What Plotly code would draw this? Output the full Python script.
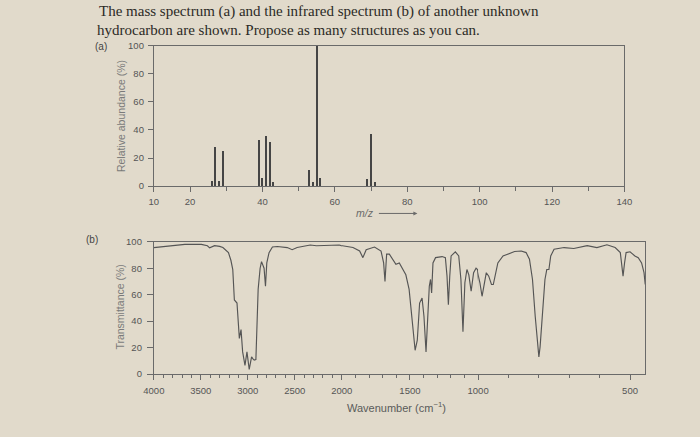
import plotly.graph_objects as go

# ---------------- data ----------------
# (a) mass spectrum
mz = [26, 27, 28, 29, 39, 40, 41, 42, 43, 53, 54, 55, 56, 69, 70, 71]
abundance = [4, 28, 4, 25, 33, 6, 36, 31.5, 3, 11.5, 3.5, 100, 6, 5, 37, 3]
ms_tickvals = [10, 20, 40, 60, 80, 100, 120, 140]
ab_tickvals = [0, 20, 40, 60, 80, 100]

# (b) infrared spectrum
wavenumber = [4000, 3900, 3810, 3670, 3494, 3430, 3406, 3354, 3300, 3265, 3206, 3180, 3160,
              3150, 3143, 3115, 3105, 3100, 3090, 3072, 3055, 3030, 3009, 2985, 2970,
              2960, 2945, 2932, 2914, 2904, 2890, 2869, 2854, 2827, 2812, 2798, 2774,
              2738, 2686, 2580, 2528, 2475, 2400, 2335, 2270, 2211, 2150, 2106, 2027,
              1978, 1918, 1869, 1845, 1821, 1760, 1712, 1693, 1683, 1671, 1651, 1627,
              1603, 1578, 1554, 1530, 1506, 1482, 1462, 1446, 1429, 1411, 1397, 1382,
              1368, 1358, 1349, 1341, 1331, 1312, 1264, 1240, 1228, 1218, 1208, 1198,
              1167, 1142, 1126, 1111, 1097, 1082, 1068, 1051, 1033, 1015, 1004, 994,
              987, 980, 973, 965, 956, 950, 943, 935, 918, 902, 880, 858, 842, 831,
              821, 812, 804, 800, 796, 789, 780, 774, 767, 761, 750, 717, 685, 641,
              609, 576, 549, 532, 527, 523, 518, 513, 500, 484, 473, 462, 454, 450]
transmittance = [95.6, 96.2, 97, 98, 98, 97, 95.4, 97, 96.5, 95.6, 91.8, 86, 79,
                 68, 56, 53.7, 40, 30, 27, 33.6, 16.8, 6.6, 16.8, 3.6, 8,
                 13, 11.5, 10.6, 11, 40, 64, 80, 85, 80, 66.4, 84, 91.8,
                 96, 96.4, 95.6, 94, 95.6, 96.5, 97.5, 97, 97, 97.5, 97.5, 97.5,
                 96.4, 95.6, 93, 88, 94, 96, 93, 84, 70, 90.6, 90.6, 86.8,
                 83, 84, 80, 75, 64, 38, 18, 25.7, 53.7, 57.5, 43.5, 16.8,
                 41, 66.4, 71.5, 61.3, 84, 88, 88.8, 88, 74, 52.4, 74, 89.3,
                 92.4, 89.3, 71.5, 32, 69, 79, 75, 62.6, 76.6, 80, 79, 69,
                 58.8, 69, 76.6, 74, 67.7, 67.7, 76.6, 84, 89.3, 90.6, 92.6, 93, 91.8, 86.8,
                 71.5, 43.5, 18, 13, 20.6, 46, 71.5, 79, 79, 89.3, 94.4, 95.6, 94.9, 97,
                 95.6, 97.7, 95.6, 91.8, 83, 74, 84, 91.8, 92.4, 89.3, 88, 84, 76.6, 67.7]
ir_segments = [  # (axis, range, labelled ticks)
    ("x2", [4000, 2000], [4000, 3500, 3000, 2500, 2000]),
    ("x3", [2000, 1000], [1500, 1000]),
    ("x4", [1000, 450], [500]),
]
tr_tickvals = [0, 20, 40, 60, 80, 100]

# ---------------- style ----------------
W, H = 700, 437
BG = "#e1dacb"
AX = "#6a6a6a"
TXT = "#555555"
LINE = "#454545"
SANS = "Liberation Sans"

# the page is shown slightly reduced with an inset; map target screen pixels to paper
SX, SY = 716 / 700, 453 / 437


def px(v):
    return (v * SX - 8) / W


def py(v):
    return 1 - (v * SY - 8) / H


fig = go.Figure()

fig.add_trace(go.Bar(x=mz, y=abundance, width=0.42, marker=dict(color=LINE, line_width=0),
                     xaxis="x", yaxis="y", showlegend=False))

for ax_name, rng, ticks in ir_segments:
    yname = "y3" if ax_name == "x4" else "y2"
    fig.add_trace(go.Scatter(x=wavenumber, y=transmittance, mode="lines",
                             line=dict(color="#555555", width=1.15),
                             xaxis=ax_name, yaxis=yname, showlegend=False))

axis_common = dict(showline=True, linecolor=AX, linewidth=1, showgrid=False, zeroline=False,
                   ticks="outside", ticklen=5, tickcolor=AX, tickwidth=1,
                   tickfont=dict(family=SANS, size=9.5, color=TXT))

layout_axes = {}
layout_axes["xaxis"] = dict(axis_common, domain=[px(152), px(627)], range=[10, 140],
                            tickvals=ms_tickvals, mirror=True, anchor="y",
                            minor=dict(ticks="outside", dtick=10, tick0=0, ticklen=4, tickcolor=AX),
                            ticklabelstandoff=1)
layout_axes["yaxis"] = dict(axis_common, domain=[py(186), py(47)], range=[0, 100],
                            tickvals=ab_tickvals, mirror=True, anchor="x", ticklabelstandoff=2)

ir_dom = [px(152), px(341.7), px(479.3), px(648)]
for i, (ax_name, rng, ticks) in enumerate(ir_segments):
    key = "xaxis" + ax_name[1:]
    layout_axes[key] = dict(axis_common, domain=[ir_dom[i], ir_dom[i + 1]], range=rng,
                            tickvals=ticks, mirror=True,
                            anchor="y3" if ax_name == "x4" else "y2",
                            minor=dict(ticks="outside", dtick=100, tick0=0, ticklen=3, tickcolor=AX),
                            ticklabelstandoff=2)
layout_axes["yaxis2"] = dict(axis_common, domain=[py(372), py(241)], range=[0, 100],
                             tickvals=tr_tickvals, anchor="x2", ticklen=6, ticklabelstandoff=3)
layout_axes["yaxis3"] = dict(showline=True, linecolor=AX, linewidth=1, showgrid=False, zeroline=False,
                             domain=[py(372), py(241)], range=[0, 100], anchor="x4", side="right",
                             ticks="", showticklabels=False)

serif = dict(family="Liberation Serif", size=15, color="#2c2a26")
ann = [
    dict(text="The mass spectrum (a) and the infrared spectrum (b) of another unknown",
         x=px(95), y=py(13), xanchor="left", yanchor="middle", font=serif),
    dict(text="hydrocarbon are shown. Propose as many structures as you can.",
         x=px(93), y=py(31), xanchor="left", yanchor="middle", font=serif),
    dict(text="(a)", x=px(99), y=py(48), xanchor="center", yanchor="middle",
         font=dict(family=SANS, size=10, color="#444")),
    dict(text="(b)", x=px(90), y=py(239), xanchor="center", yanchor="middle",
         font=dict(family=SANS, size=10, color="#444")),
    dict(text="Relative abundance (%)", x=px(119), y=py(116.5), textangle=-90,
         xanchor="center", yanchor="middle", font=dict(family=SANS, size=10.5, color="#7a7a7a")),
    dict(text="Transmittance (%)", x=px(118), y=py(306), textangle=-90,
         xanchor="center", yanchor="middle", font=dict(family=SANS, size=10.5, color="#7a7a7a")),
    dict(text="<i>m/z</i>", x=px(365), y=py(213), xanchor="center", yanchor="middle",
         font=dict(family=SANS, size=10.5, color="#6a6a6a")),
    dict(text="", x=px(418), y=py(213), ax=-40, ay=0, showarrow=True, arrowhead=2,
         arrowsize=0.8, arrowwidth=1, arrowcolor="#6a6a6a"),
    dict(text="Wavenumber (cm<sup>−1</sup>)", x=px(397), y=py(405), xanchor="center",
         yanchor="middle", font=dict(family=SANS, size=11, color="#5a5a5a")),
]
for a in ann:
    a.update(xref="paper", yref="paper")
    a.setdefault("showarrow", False)

fig.update_layout(width=W, height=H, margin=dict(l=0, r=0, t=0, b=0),
                  paper_bgcolor=BG, plot_bgcolor=BG, bargap=0,
                  annotations=ann, **layout_axes)

fig.write_html("out.html", post_script="document.body.style.background='%s';" % BG)
